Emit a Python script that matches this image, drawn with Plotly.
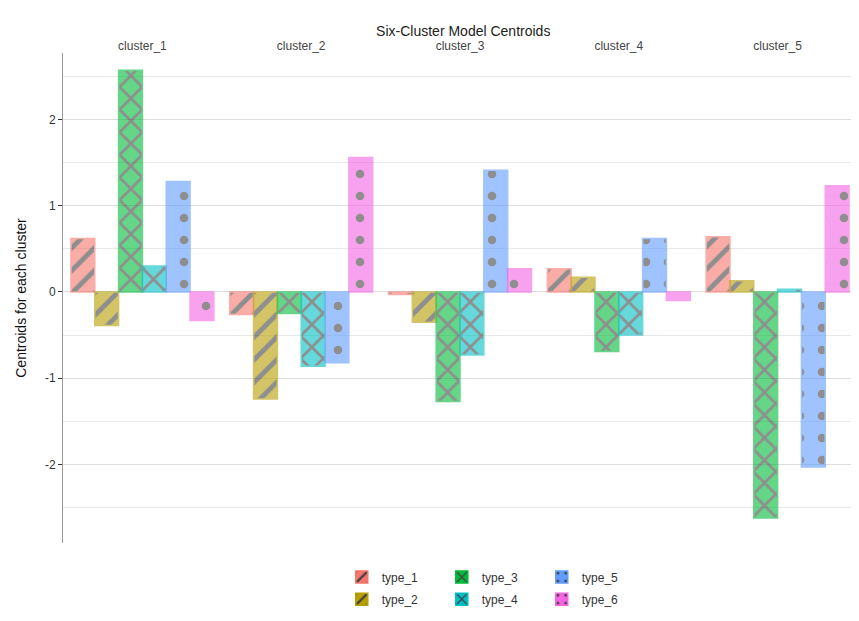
import plotly.graph_objects as go

clusters = ["cluster_1", "cluster_2", "cluster_3", "cluster_4", "cluster_5"]
types = ["type_1", "type_2", "type_3", "type_4", "type_5", "type_6"]
values = {
    "type_1": [0.62, -0.26, -0.03, 0.27, 0.64],
    "type_2": [-0.39, -1.24, -0.35, 0.17, 0.13],
    "type_3": [2.57, -0.25, -1.27, -0.69, -2.62],
    "type_4": [0.30, -0.86, -0.73, -0.50, 0.03],
    "type_5": [1.28, -0.82, 1.41, 0.62, -2.03],
    "type_6": [-0.33, 1.56, 0.27, -0.10, 1.23],
}
colors = ["#F8766D", "#B79F00", "#00BA38", "#00BFC4", "#619CFF", "#F564E3"]
shapes = ["/", "/", "x", "x", ".", "."]

fig = go.Figure()
for i, t in enumerate(types):
    fig.add_trace(go.Bar(
        x=clusters, y=values[t], name=t,
        marker=dict(
            color=colors[i], opacity=0.6,
            line=dict(color=colors[i], width=1.5),
            pattern=dict(shape=shapes[i], fgcolor="#444444", bgcolor=colors[i],
                         size=22 if i >= 4 else 16, solidity=0.12 if i >= 4 else 0.3,
                         fillmode="replace"),
        ),
        legend="legend" if i % 2 == 0 else "legend2",
    ))

fig.update_layout(
    width=859, height=621,
    paper_bgcolor="white", plot_bgcolor="white",
    font=dict(family="Liberation Sans, Arial", size=12, color="#333333"),
    title=dict(text="Six-Cluster Model Centroids", x=0.53, y=0.97, font=dict(size=14, color="#222")),
    barmode="group", bargap=0.1, bargroupgap=0,
    margin=dict(l=55, r=10, t=45, b=86),
    legend=dict(orientation="h", x=0.54, xanchor="center", y=-0.04, yanchor="top",
                entrywidth=55, font=dict(size=12)),
    legend2=dict(orientation="h", x=0.54, xanchor="center", y=-0.085, yanchor="top",
                 entrywidth=55, font=dict(size=12)),
)
fig.update_xaxes(side="top", showgrid=False, ticks="", ticklabelstandoff=0,
                 tickfont=dict(size=12, color="#444"))
fig.update_yaxes(
    title=dict(text="Centroids for each cluster", font=dict(size=14, color="#111")),
    range=[-2.91, 2.77], tickvals=[-2, -1, 0, 1, 2], ticktext=["-2", "-1", "0", "1", "2"],
    gridcolor="#dddddd", zeroline=False, ticks="outside", ticklen=4, tickcolor="#333",
    minor=dict(dtick=0.5, tick0=0.5, showgrid=True, gridcolor="#e8e8e8"),
    showline=True, linecolor="#999999",
)
fig.write_html("out.html")
